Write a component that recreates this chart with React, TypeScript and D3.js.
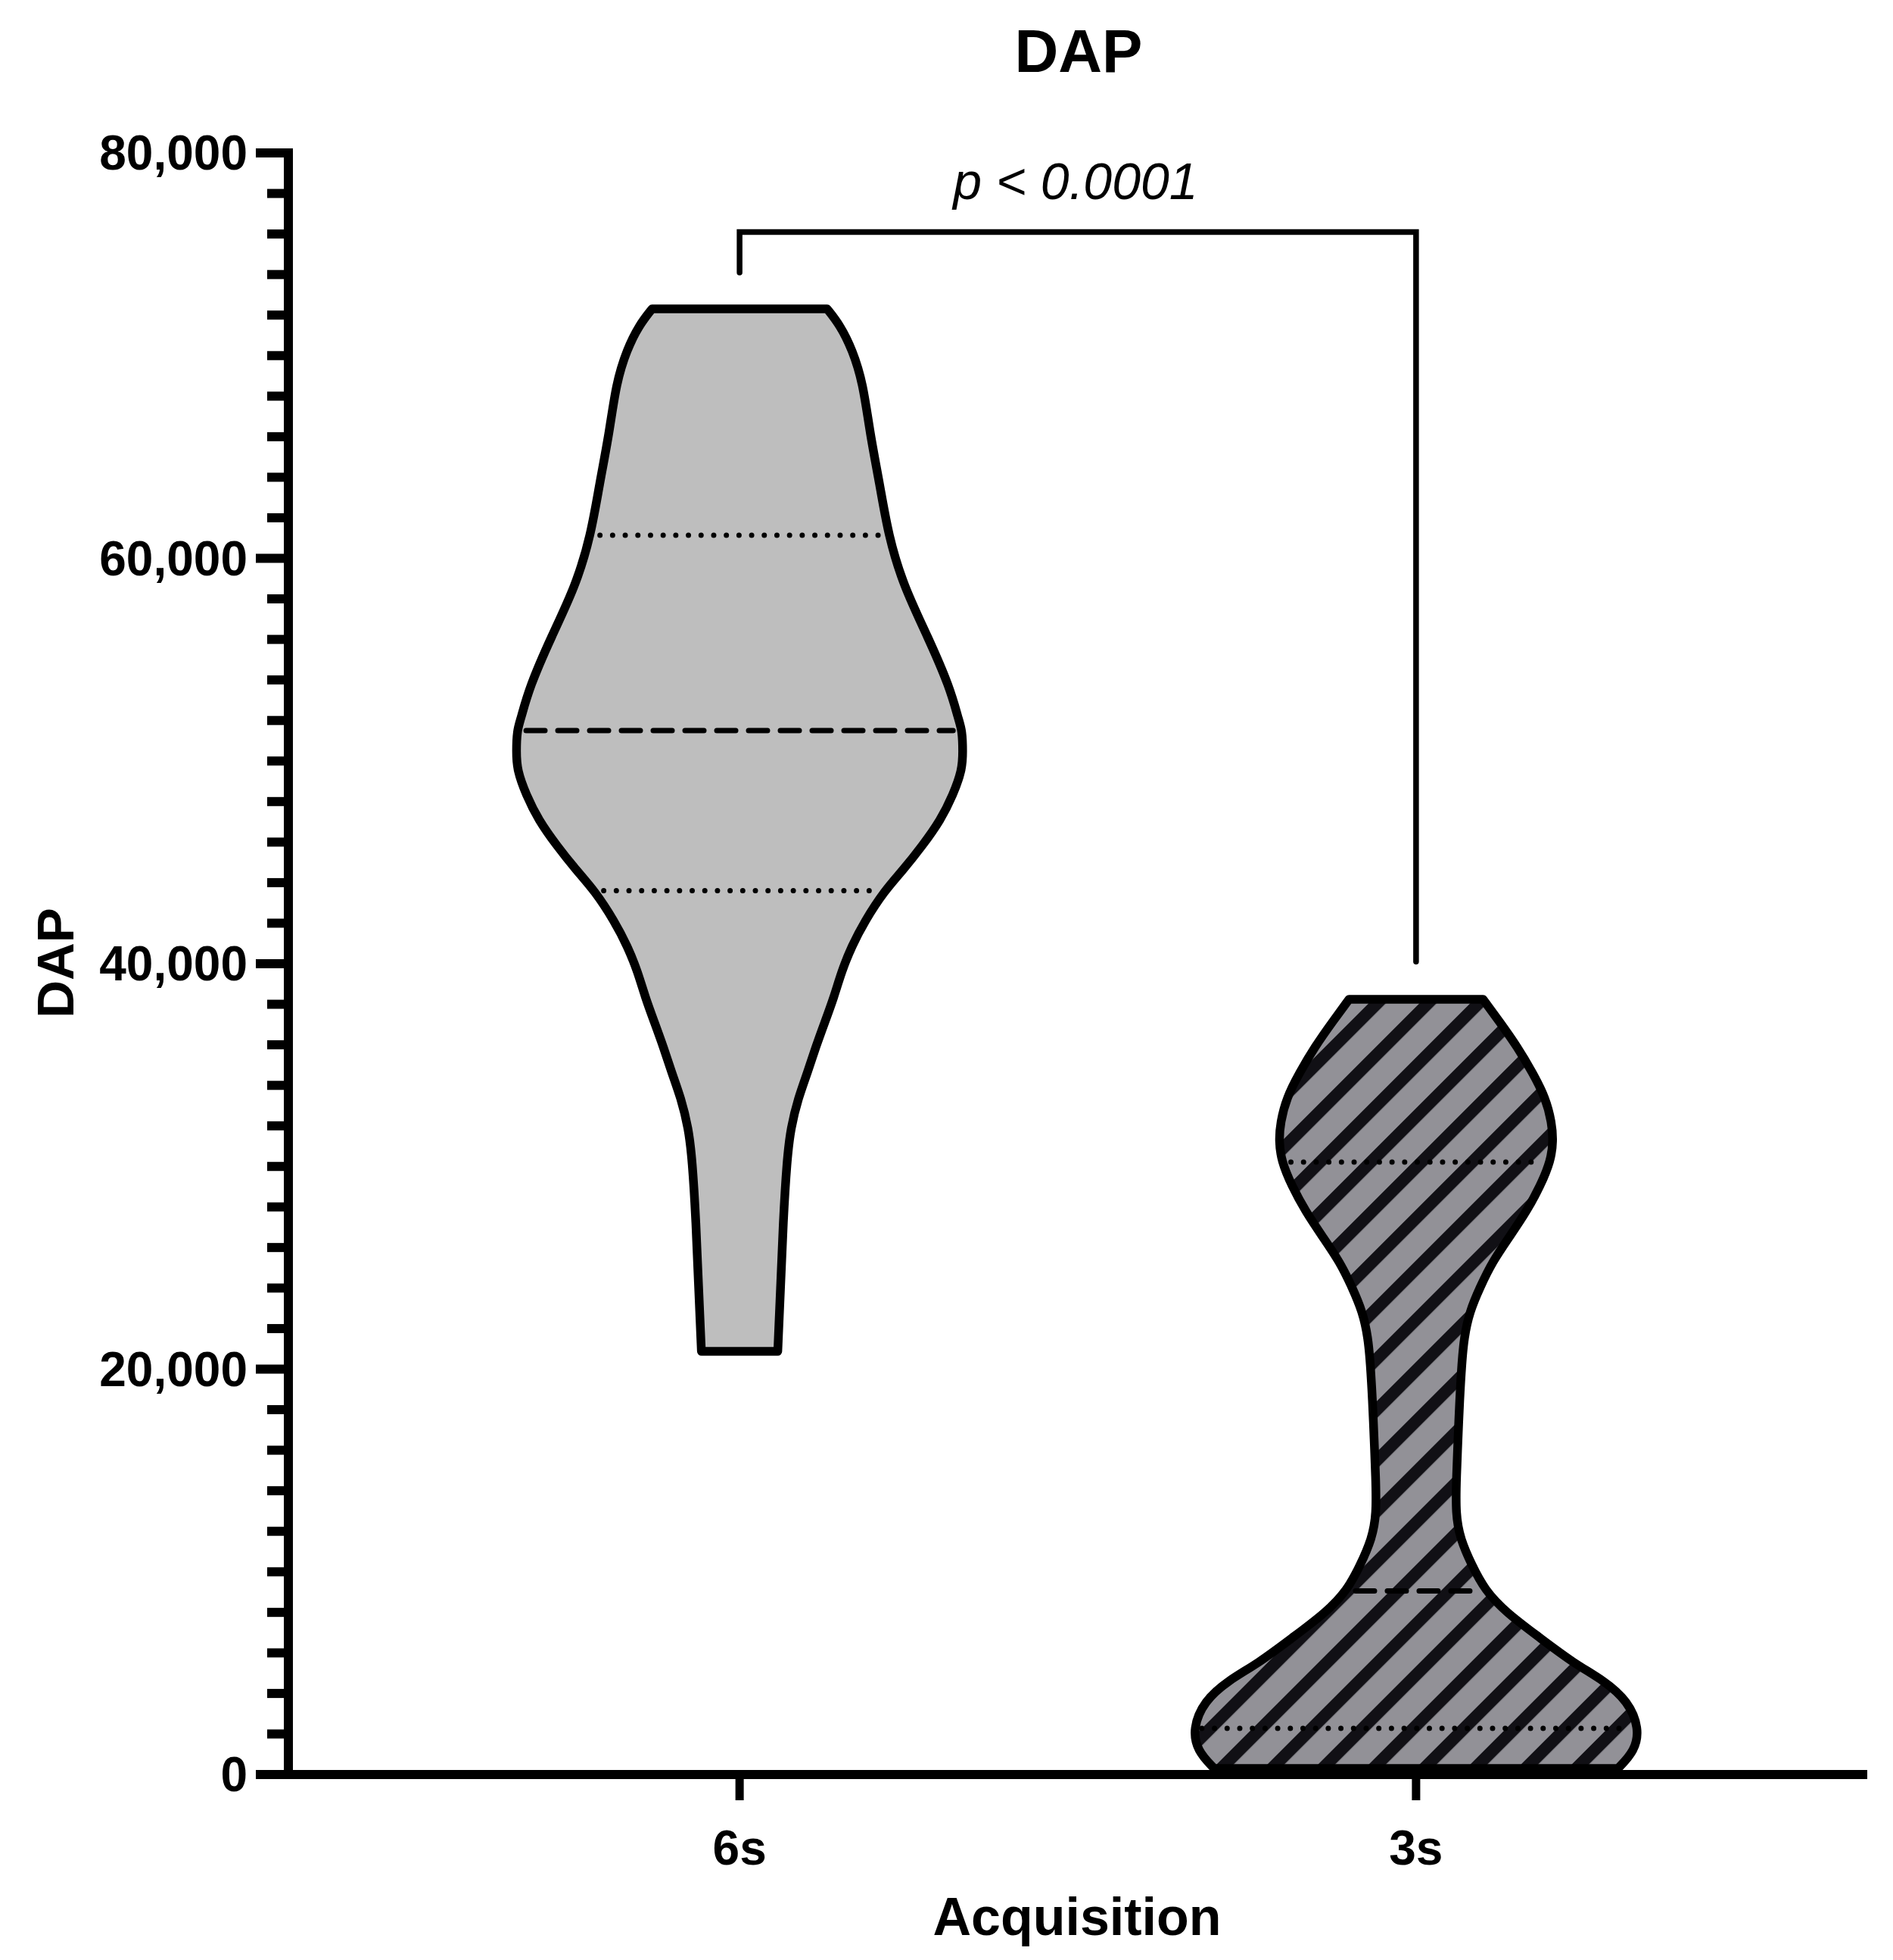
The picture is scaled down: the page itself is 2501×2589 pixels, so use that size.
import React, { useEffect, useRef } from 'react';
import * as d3 from 'd3';

const categories = ['6s', '3s'];
const yMajorTicks = [0, 20000, 40000, 60000, 80000];
const yMinorStep = 2000;

// violin outlines: DAP value and relative half width
const values6s = [72307, 71485, 70289, 68646, 66144, 63641, 61139, 58637, 56134, 53632, 52064, 51503, 50458, 49561, 48329, 47096, 45826, 44594, 43585, 42092, 40859, 39627, 38357, 37124, 35892, 34622, 33389, 31896, 30327, 27227, 24127, 20878];
const widths6s = [0.392, 0.451, 0.505, 0.553, 0.584, 0.628, 0.666, 0.734, 0.843, 0.942, 0.980, 0.997, 1.0, 0.997, 0.956, 0.901, 0.819, 0.730, 0.648, 0.560, 0.502, 0.457, 0.423, 0.382, 0.341, 0.304, 0.263, 0.229, 0.212, 0.195, 0.184, 0.171];
const quartiles6s = [43600, 51500, 61140];

const values3s = [38245, 37124, 35892, 34622, 33389, 32157, 31261, 30290, 29020, 27787, 26555, 25285, 24052, 22820, 21550, 20317, 18450, 16583, 14715, 12848, 11615, 10345, 9113, 7993, 6760, 5490, 4631, 3623, 2278, 1158, 300];
const widths3s = [0.300, 0.375, 0.454, 0.522, 0.580, 0.608, 0.614, 0.604, 0.556, 0.495, 0.420, 0.341, 0.287, 0.239, 0.215, 0.205, 0.195, 0.188, 0.181, 0.177, 0.198, 0.249, 0.307, 0.403, 0.553, 0.706, 0.843, 0.949, 1.0, 0.980, 0.904];
const quartiles3s = [2278, 9060, 30215];

// significance bracket: left end, top, right end (DAP units)
const bracketValues = [74100, 76100, 40100];
const pLabel = 'p < 0.0001';

const App = () => {
    const svgRef = useRef<SVGSVGElement>(null);

    useEffect(() => {
        const width = 2501;
        const height = 2589;
        const font = "'Liberation Sans', Arial, Helvetica, sans-serif";

        const svg = d3.select(svgRef.current)
            .attr('width', width)
            .attr('height', height);
        svg.selectAll('*').remove();

        const x = d3.scalePoint<string>().domain(categories).range([381, 2467]).padding(0.667);
        const y = d3.scaleLinear().domain([0, 80000]).range([2344, 202]);
        const half = d3.scaleLinear().domain([0, 1]).range([0, 295]);

        svg.append('rect').attr('width', width).attr('height', height).attr('fill', '#ffffff');

        // diagonal hatch for the 3s violin
        const defs = svg.append('defs');
        const pat = defs.append('pattern')
            .attr('id', 'hatch')
            .attr('patternUnits', 'userSpaceOnUse')
            .attr('width', 47.4)
            .attr('height', 20)
            .attr('patternTransform', 'translate(1605,2333) rotate(45)');
        pat.append('rect').attr('width', 47.4).attr('height', 20).attr('fill', '#929197');
        pat.append('rect').attr('width', 16).attr('height', 20).attr('fill', '#111015');

        const violins = [
            { key: '6s', values: values6s, widths: widths6s, quart: quartiles6s, fill: '#bebebe' },
            { key: '3s', values: values3s, widths: widths3s, quart: quartiles3s, fill: 'url(#hatch)' }
        ];

        violins.forEach(v => {
            const cx = x(v.key) as number;
            const pts = v.values.map((val, i) => [val, v.widths[i]] as [number, number]);
            // smooth outline, like a density curve
            const area = d3.area<[number, number]>()
                .y(d => y(d[0]))
                .x0(d => cx - half(d[1]))
                .x1(d => cx + half(d[1]))
                .curve(d3.curveBasis);
            const path = area(pts) as string;

            svg.append('path').attr('d', path).attr('fill', v.fill);

            // quartiles dotted, median dashed
            const widthAt = d3.scaleLinear().domain(v.values).range(v.widths).clamp(true);
            v.quart.forEach((q, i) => {
                const hw = half(widthAt(q)) - 12;
                svg.append('line')
                    .attr('x1', cx - hw)
                    .attr('x2', cx + hw)
                    .attr('y1', y(q))
                    .attr('y2', y(q))
                    .attr('stroke', '#000')
                    .attr('stroke-width', 7)
                    .attr('stroke-linecap', 'round')
                    .attr('stroke-dasharray', i === 1 ? '25 17' : '0 16.7');
            });

            svg.append('path')
                .attr('d', path)
                .attr('fill', 'none')
                .attr('stroke', '#000')
                .attr('stroke-width', 11.5)
                .attr('stroke-linejoin', 'round');
        });

        // y axis
        const yTicks = d3.range(0, 80001, yMinorStep);
        svg.append('g')
            .selectAll('line')
            .data(yTicks)
            .enter()
            .append('line')
            .attr('x1', d => (yMajorTicks.includes(d) ? 338 : 353))
            .attr('x2', 381)
            .attr('y1', d => y(d))
            .attr('y2', d => y(d))
            .attr('stroke', '#000')
            .attr('stroke-width', 12);

        svg.append('line')
            .attr('x1', 381).attr('x2', 381)
            .attr('y1', y(80000) - 6).attr('y2', y(0) + 6)
            .attr('stroke', '#000').attr('stroke-width', 12);

        svg.append('g')
            .selectAll('text')
            .data(yMajorTicks)
            .enter()
            .append('text')
            .attr('x', 327)
            .attr('y', d => y(d))
            .attr('dy', '0.35em')
            .attr('text-anchor', 'end')
            .attr('font-family', font)
            .attr('font-weight', 'bold')
            .attr('font-size', 64)
            .text(d => d3.format(',')(d));

        // x axis
        svg.append('line')
            .attr('x1', 375).attr('x2', 2467)
            .attr('y1', y(0)).attr('y2', y(0))
            .attr('stroke', '#000').attr('stroke-width', 12);

        categories.forEach(c => {
            svg.append('line')
                .attr('x1', x(c) as number).attr('x2', x(c) as number)
                .attr('y1', y(0)).attr('y2', y(0) + 34)
                .attr('stroke', '#000').attr('stroke-width', 11);
            svg.append('text')
                .attr('x', x(c) as number)
                .attr('y', 2463)
                .attr('text-anchor', 'middle')
                .attr('font-family', font)
                .attr('font-weight', 'bold')
                .attr('font-size', 64)
                .text(c);
        });

        // significance bracket
        const [bl, bt, br] = bracketValues;
        svg.append('path')
            .attr('d', `M${x('6s')},${y(bl)}V${y(bt)}H${x('3s')}V${y(br)}`)
            .attr('fill', 'none')
            .attr('stroke', '#000')
            .attr('stroke-width', 7.5)
            .attr('stroke-linecap', 'round');

        svg.append('text')
            .attr('x', 1421)
            .attr('y', 263)
            .attr('text-anchor', 'middle')
            .attr('font-family', font)
            .attr('font-style', 'italic')
            .attr('font-size', 68)
            .text(pLabel);

        // titles
        svg.append('text')
            .attr('x', 1425)
            .attr('y', 95)
            .attr('text-anchor', 'middle')
            .attr('font-family', font)
            .attr('font-weight', 'bold')
            .attr('font-size', 80)
            .text('DAP');

        svg.append('text')
            .attr('x', 1423)
            .attr('y', 2556)
            .attr('text-anchor', 'middle')
            .attr('font-family', font)
            .attr('font-weight', 'bold')
            .attr('font-size', 70)
            .text('Acquisition');

        svg.append('text')
            .attr('transform', 'translate(97,1272) rotate(-90)')
            .attr('text-anchor', 'middle')
            .attr('font-family', font)
            .attr('font-weight', 'bold')
            .attr('font-size', 69)
            .text('DAP');
    }, []);

    return (
        <svg ref={svgRef} style={{ position: 'absolute', left: 0, top: 0, display: 'block' }}></svg>
    );
};

export default App;
